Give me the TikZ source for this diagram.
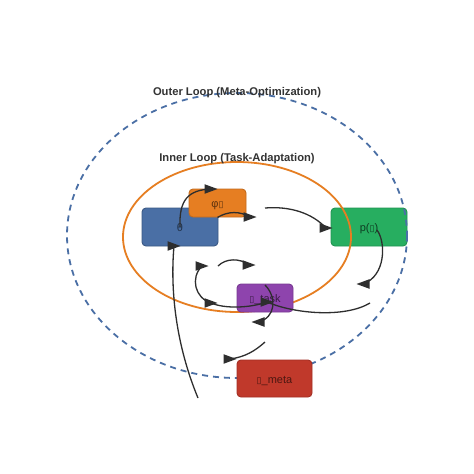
\documentclass[tikz,border=0pt]{standalone}
\usepackage{fontspec}
\setmainfont{Liberation Sans}
\newfontfamily\symfont{DejaVu Sans}
\usetikzlibrary{calc}
\definecolor{cblue}{HTML}{4A6FA5}
\definecolor{corange}{HTML}{E67E22}
\definecolor{cgreen}{HTML}{27AE60}
\definecolor{cpurple}{HTML}{8E44AD}
\definecolor{cred}{HTML}{C0392B}
\definecolor{ctitle}{HTML}{333333}
\definecolor{arrowc}{HTML}{2E2E2E}
\newcommand{\tofu}{{\symfont\fontsize{9}{11}\selectfont ▯}}
\newcommand{\lbl}[1]{\raisebox{-4.5pt}[0pt][0pt]{#1}}
\begin{document}
\begin{tikzpicture}[x=1pt,y=-1pt,
  box/.style={draw, line width=0.9pt, rounded corners=4pt, inner sep=0pt,
    font=\fontsize{11}{13}\selectfont},
  title/.style={font=\bfseries\fontsize{11.2}{13}\selectfont, text=ctitle},
  conn/.style={draw=arrowc, line width=1.3pt},
  rmark/.pic={\fill[arrowc] (-6.5,-4.8) -- (6.5,0) -- (-6.5,4.8) -- cycle;},
  lmark/.pic={\fill[arrowc] (6.5,-4.8) -- (-6.5,0) -- (6.5,4.8) -- cycle;}]
\useasboundingbox (0,0) rectangle (474,474);
\fill[white] (0,0) rectangle (474,474);

% boxes below the loops
\node[box, fill=cblue, draw=cblue!80!black, minimum width=76pt, minimum height=38pt,
  text=cblue!45!black] (theta) at (180,227) {\lbl{θ}};
\node[box, fill=corange, draw=corange!85!black, minimum width=57pt, minimum height=28pt,
  text=corange!40!black] (phi) at (217.5,203) {\lbl{φ\tofu}};
\node[box, fill=cgreen, draw=cgreen!85!black, minimum width=76pt, minimum height=38pt,
  text=cgreen!35!black] (p) at (369,227) {\lbl{p(\tofu)}};

% loops
\draw[color=cblue, line width=1.8pt, dash pattern=on 6pt off 5pt] (237,235.5) ellipse [x radius=170, y radius=142.5];
\draw[color=corange, line width=1.8pt] (237,237) ellipse [x radius=114, y radius=75];
\node[title] (outer) at (237,93) {Outer Loop (Meta-Optimization)};
\node[title] (inner) at (237,159) {Inner Loop (Task-Adaptation)};

% boxes above the loops
\node[box, fill=cpurple, draw=cpurple!85!black, minimum width=56pt, minimum height=28pt,
  text=cpurple!40!black] (task) at (265,298) {\lbl{\tofu\_task}};
\node[box, fill=cred, draw=cred!85!black, minimum width=75pt, minimum height=37pt,
  text=cred!40!black] (meta) at (274.5,378.5) {\lbl{\tofu\_meta}};

% connector end points
\coordinate (m1) at (211,189);
\coordinate (m2) at (250,217);
\coordinate (s3) at (265,208);
\coordinate (m3) at (326,228);
\coordinate (s4) at (377,230);
\coordinate (m4) at (363,284);
\coordinate (s5) at (370,303);
\coordinate (h1) at (202,266);
\coordinate (h2) at (211,303);
\coordinate (h3) at (267,302);
\coordinate (s7) at (218,266);
\coordinate (h4) at (249,265);
\coordinate (s8) at (265,285);
\coordinate (h5) at (258,322);
\coordinate (s9) at (265,342);
\coordinate (h6) at (230,359);
\coordinate (s10) at (198,398);
\coordinate (h7) at (174,246);

% connectors
\draw[conn] (theta.center) .. controls (179,200) and (188,190) .. (m1);
\draw[conn] (phi.south) .. controls (228,211) and (240,211) .. (m2);
\draw[conn] (s3) .. controls (290,206) and (312,213) .. (m3);
\draw[conn] (s4) .. controls (386,242) and (386,276) .. (m4);
\draw[conn] (s5) .. controls (345,318) and (295,314) .. (h3);
\draw[conn] (h1) .. controls (190,278) and (195,298) .. (h2);
\draw[conn] (h2) .. controls (225,309) and (250,308) .. (h3);
\draw[conn] (s7) .. controls (226,258) and (240,258) .. (h4);
\draw[conn] (s8) .. controls (277,297) and (276,318) .. (h5);
\draw[conn] (s9) .. controls (255,351) and (245,357) .. (h6);
\draw[conn] (s10) .. controls (176,345) and (170,290) .. (h7);

% arrow heads
\pic at (m1) {rmark};
\pic at (m2) {rmark};
\pic at (m3) {rmark};
\pic at (m4) {lmark};
\pic at (h1) {rmark};
\pic at (h2) {rmark};
\pic at (h3) {rmark};
\pic at (h4) {rmark};
\pic at (h5) {lmark};
\pic at (h6) {rmark};
\pic at (h7) {rmark};
\end{tikzpicture}
\end{document}
